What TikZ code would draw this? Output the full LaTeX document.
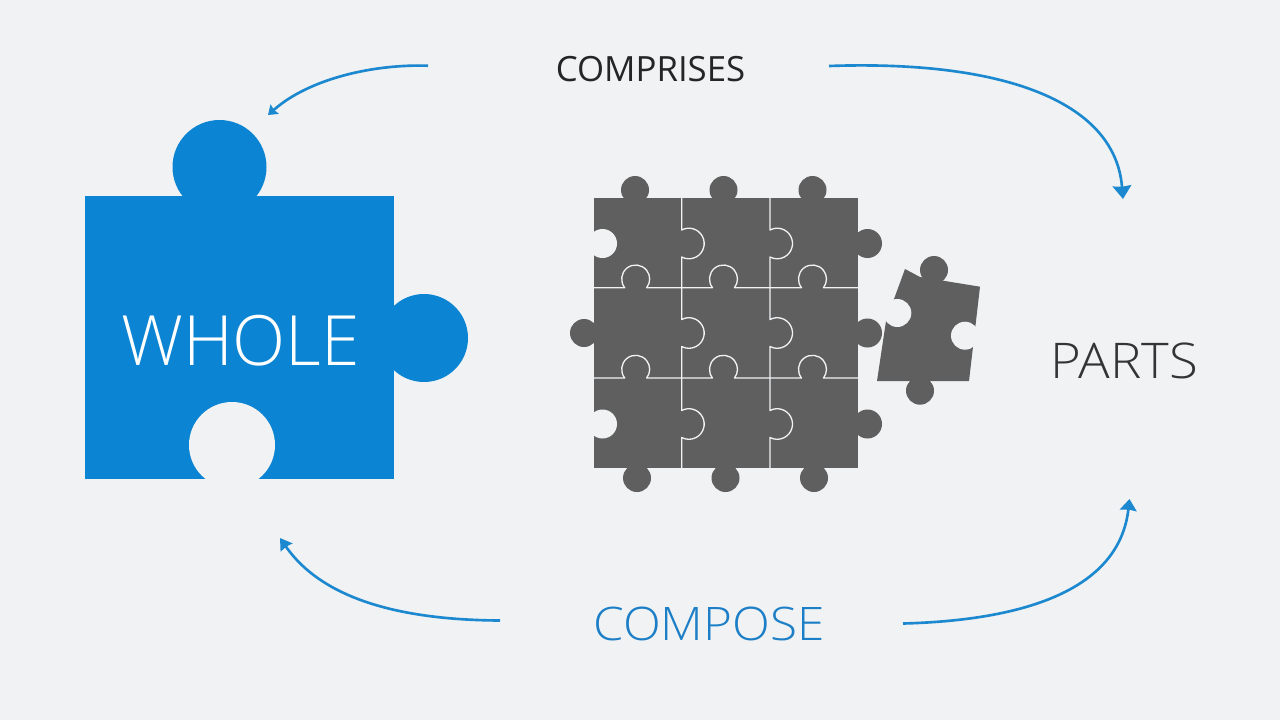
\documentclass[tikz,border=0pt]{standalone}
\usepackage{fontspec}
\setmainfont{Open Sans Light}
\newfontfamily\regfont{Open Sans}
\newfontfamily\widefont[FakeStretch=1.07]{Open Sans Light}
\usetikzlibrary{arrows.meta}
\definecolor{bgcol}{HTML}{F0F2F3}
\definecolor{bluecol}{HTML}{0B84D3}
\definecolor{linecol}{HTML}{1B88CF}
\definecolor{composecol}{HTML}{1B7EC6}
\definecolor{piececol}{HTML}{5F5F5F}
\definecolor{textcol}{HTML}{333436}
\definecolor{darkcol}{HTML}{242526}
\tikzset{
	seam/.style={draw=bgcol,line width=0.75pt},
	curved/.style={->,draw=linecol,line width=1.5pt},
	label/.style={inner sep=0pt,anchor=base}
}
\newcommand{\colseam}[1]{\draw[seam] (#1,198)--(#1,230) arc[start angle=-118,end angle=118,radius=15.3]--(#1,319.5) arc[start angle=-118,end angle=118,radius=15.3]--(#1,410.5) arc[start angle=-118,end angle=118,radius=15.3]--(#1,468);}
\newcommand{\rowseam}[1]{\draw[seam] (593.5,#1)--(624.7,#1) arc[start angle=141.6,end angle=398.4,radius=14]--(712.5,#1) arc[start angle=141.6,end angle=398.4,radius=14]--(801.5,#1) arc[start angle=141.6,end angle=398.4,radius=14]--(858,#1);}
\begin{document}
\begin{tikzpicture}[x=0.02cm, y=-0.02cm, line join=round, >={Stealth[length=7.5pt,width=10.5pt,inset=0.5pt]}]
	\fill[bgcol] (0,0) rectangle (1280,720);
	\useasboundingbox (0,0) rectangle (1280,720);
	% whole
	\fill[bluecol] (85,196) rectangle (394,479);
	\fill[bluecol] (219.5,167) circle[radius=47];
	\fill[bluecol] (424,338) circle[radius=44];
	\fill[bgcol] (232,445) circle[radius=43];
	% grid
	\fill[piececol] (593.5,198) rectangle (858,468);
	\foreach \x in {635,723.5,812.5} \fill[piececol] (\x,190) circle[radius=14];
	\foreach \x in {637,725.5,814} \fill[piececol] (\x,478) circle[radius=14];
	\foreach \y in {243.5,333,424} \fill[piececol] (867.5,\y) circle[radius=14.5];
	\fill[piececol] (584,333) circle[radius=14];
	\foreach \y in {243.5,424} \fill[bgcol] (602.5,\y) circle[radius=14.5];
	\colseam{681.7}
	\colseam{770}
	\rowseam{287.7}
	\rowseam{378}
	% loose piece
	\fill[piececol] (905,269)--(920,277)--(945,281)--(980,286.7)--(969,381)--(877,381)--(886,321)--(894,299)--cycle;
	\fill[piececol] (934,270) circle[radius=14];
	\fill[piececol] (920,390.7) circle[radius=14];
	\fill[bgcol] (897.3,313) circle[radius=14];
	\fill[bgcol] (965,335.7) circle[radius=14];
	% labels
	\node[label,text=white,font=\fontsize{39.5}{40}\selectfont] (whole) at (240.5,365) {WHOLE};
	\node[label,text=darkcol,font=\regfont\fontsize{19.8}{20}\selectfont] (comprises) at (650.5,81.5) {COMPRISES};
	\node[label,text=textcol,font=\widefont\fontsize{28}{28}\selectfont] (parts) at (1124,378) {PARTS};
	\node[label,text=composecol,font=\widefont\fontsize{26.3}{27}\selectfont] (compose) at (709,640) {COMPOSE};
	% arrows
	\coordinate (topL) at (428,65.7);
	\coordinate (topLend) at (268,115);
	\coordinate (topR) at (829,66);
	\coordinate (topRend) at (1123,199);
	\coordinate (botL) at (500,620.5);
	\coordinate (botLend) at (280,538);
	\coordinate (botR) at (903,623.5);
	\coordinate (botRend) at (1129.5,499);
	\draw[curved,>={Stealth[length=5pt,width=7pt,inset=0.5pt]}] (topL) .. controls (375,64) and (310,78) .. (topLend);
	\draw[curved] (topR) .. controls (1000,60) and (1115,100) .. (topRend);
	\draw[curved,>={Stealth[length=6.5pt,width=8pt,inset=0.5pt]}] (botL) .. controls (410,620) and (325,603) .. (botLend);
	\draw[curved,>={Stealth[length=6.5pt,width=9.5pt,inset=0.5pt]}] (botR) .. controls (1035,620) and (1120,585) .. (botRend);
\end{tikzpicture}
\end{document}
